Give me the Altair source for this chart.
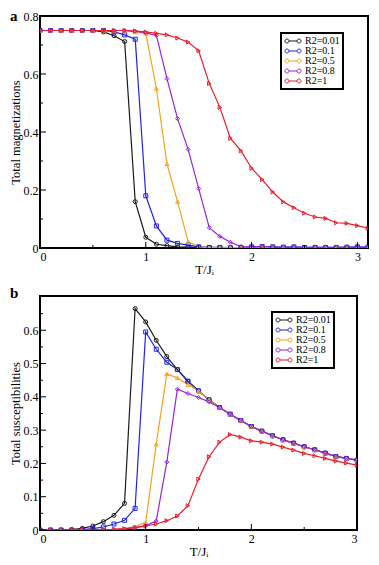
import altair as alt
import pandas as pd

FONT = "Liberation Serif"
series = ["R2=0.01", "R2=0.1", "R2=0.5", "R2=0.8", "R2=1"]
colors = ["#1a1a1a", "#2222e6", "#f5a21f", "#9a24d4", "#ea1f2b"]
shapes = ["circle", "square", "triangle-up", "diamond", "triangle-right"]

# ---- panel a: total magnetizations ----
T_a = [0.0, 0.1, 0.2, 0.3, 0.4, 0.5, 0.6, 0.7, 0.8, 0.9,
       1.0, 1.1, 1.2, 1.3, 1.4, 1.5, 1.6, 1.7, 1.8, 1.9,
       2.0, 2.1, 2.2, 2.3, 2.4, 2.5, 2.6, 2.7, 2.8, 2.9,
       3.0, 3.1]
mag_001 = [0.75, 0.75, 0.75, 0.75, 0.75, 0.75, 0.745, 0.732, 0.712, 0.16,
           0.037, 0.013, 0.008, 0.004, 0.003, 0.002, 0.002, 0.001, 0.001, 0.001,
           0.001, 0.001, 0.001, 0.001, 0.001, 0.001, 0.001, 0.001, 0.001, 0.001,
           0.001, 0.001]
mag_01 = [0.75, 0.75, 0.75, 0.75, 0.75, 0.75, 0.75, 0.745, 0.735, 0.72,
          0.18, 0.076, 0.027, 0.016, 0.01, 0.004, 0.002, 0.002, 0.001, 0.002,
          0.004, 0.005, 0.004, 0.003, 0.004, 0.002, 0.002, 0.002, 0.002, 0.003,
          0.004, 0.003]
mag_05 = [0.75, 0.75, 0.75, 0.75, 0.75, 0.75, 0.75, 0.75, 0.75, 0.745,
          0.74, 0.55, 0.29, 0.16, 0.022, 0.004, 0.001, 0.001, 0.001, 0.001,
          0.001, 0.001, 0.001, 0.001, 0.001, 0.001, 0.001, 0.001, 0.001, 0.001,
          0.001, 0.001]
mag_08 = [0.75, 0.75, 0.75, 0.75, 0.75, 0.75, 0.75, 0.75, 0.75, 0.748,
          0.742, 0.733, 0.584, 0.446, 0.34, 0.205, 0.07, 0.04, 0.02, 0.005,
          0.002, 0.006, 0.002, 0.002, 0.002, 0.002, 0.002, 0.002, 0.002, 0.002,
          0.002, 0.002]
mag_1 = [0.75, 0.75, 0.75, 0.75, 0.75, 0.75, 0.75, 0.75, 0.75, 0.748,
         0.745, 0.74, 0.735, 0.724, 0.71, 0.68, 0.567, 0.485, 0.378, 0.335,
         0.275, 0.236, 0.193, 0.159, 0.139, 0.12, 0.107, 0.102, 0.087, 0.085,
         0.077, 0.068]

# ---- panel b: total susceptibilities ----
T_b = [0.0, 0.1, 0.2, 0.3, 0.4, 0.5, 0.6, 0.7, 0.8, 0.9,
       1.0, 1.1, 1.2, 1.3, 1.4, 1.5, 1.6, 1.7, 1.8, 1.9,
       2.0, 2.1, 2.2, 2.3, 2.4, 2.5, 2.6, 2.7, 2.8, 2.9,
       3.0]
sus_001 = [0.0, 0.0, 0.0, 0.001, 0.005, 0.012, 0.025, 0.044, 0.08, 0.665,
           0.625, 0.57, 0.521, 0.482, 0.447, 0.418, 0.391, 0.368, 0.348, 0.329,
           0.311, 0.297, 0.283, 0.271, 0.261, 0.25, 0.241, 0.231, 0.221, 0.215,
           0.21]
sus_01 = [0.0, 0.0, 0.0, 0.0, 0.001, 0.004, 0.009, 0.018, 0.029, 0.065,
          0.595, 0.543, 0.504, 0.482, 0.447, 0.418, 0.391, 0.368, 0.348, 0.329,
          0.311, 0.297, 0.283, 0.271, 0.261, 0.25, 0.241, 0.231, 0.221, 0.215,
          0.21]
sus_05 = [0.0, 0.0, 0.0, 0.0, 0.0, 0.0, 0.001, 0.002, 0.004, 0.01,
          0.023, 0.258, 0.469, 0.457, 0.437, 0.418, 0.391, 0.368, 0.348, 0.329,
          0.311, 0.297, 0.283, 0.271, 0.261, 0.25, 0.241, 0.231, 0.221, 0.215,
          0.21]
sus_08 = [0.0, 0.0, 0.0, 0.0, 0.0, 0.0, 0.0, 0.001, 0.003, 0.007,
          0.013, 0.027, 0.204, 0.423, 0.41, 0.398, 0.385, 0.368, 0.348, 0.329,
          0.311, 0.297, 0.283, 0.271, 0.261, 0.25, 0.241, 0.231, 0.221, 0.215,
          0.21]
sus_1 = [0.0, 0.0, 0.0, 0.0, 0.0, 0.0, 0.001, 0.002, 0.004, 0.007,
         0.012, 0.018, 0.028, 0.042, 0.073, 0.153, 0.22, 0.264, 0.287, 0.279,
         0.268, 0.264, 0.258, 0.249, 0.24, 0.23, 0.223, 0.215, 0.207, 0.201,
         0.195]

# axis tick values
xmajor = [0, 1, 2, 3]
xminor = [0.5, 1.5, 2.5]
ymajor_a = [0, 0.2, 0.4, 0.6, 0.8]
yminor_a = [0.1, 0.3, 0.5, 0.7]
ymajor_b = [0, 0.1, 0.2, 0.3, 0.4, 0.5, 0.6]
yminor_b = [0.05, 0.15, 0.25, 0.35, 0.45, 0.55, 0.65]

# legend symbol: line with an open circle at each end
LEG_PATH = ("M-1,0A0.5,0.5 0 1,1 0,0A0.5,0.5 0 1,1 -1,0"
            "M0,0L2,0"
            "M2,0A0.5,0.5 0 1,1 3,0A0.5,0.5 0 1,1 2,0")


def panel(T, vals, ytitle, ydom, xdom, ymaj, ymin, w, h, letter, lx, ly, letter_y):
    rows = []
    for s, v in zip(series, vals):
        for t, y in zip(T, v):
            rows.append({"T": t, "val": y, "series": s})
    df = pd.DataFrame(rows)

    xscale = alt.Scale(domain=xdom, nice=False, zero=False)
    yscale = alt.Scale(domain=ydom, nice=False, zero=False)
    xaxis = alt.Axis(title="T/Jᵢ", values=xmajor, format="~g", ticks=False,
                     domain=False, grid=False, labelPadding=3, titlePadding=1,
                     labelFont=FONT, titleFont=FONT, labelFontSize=12, titleFontSize=13)
    yaxis = alt.Axis(title=ytitle, values=ymaj, format="~g", ticks=False,
                     domain=False, grid=False, labelPadding=2, titlePadding=1,
                     labelFont=FONT, titleFont=FONT, labelFontSize=12, titleFontSize=12.5)
    X = alt.X("T:Q", scale=xscale, axis=xaxis)
    Y = alt.Y("val:Q", scale=yscale, axis=yaxis)
    color = alt.Color("series:N", scale=alt.Scale(domain=series, range=colors),
                      legend=alt.Legend(title=None, orient="none", legendX=lx, legendY=ly,
                                        symbolType=LEG_PATH, symbolSize=64,
                                        symbolStrokeWidth=1, symbolFillColor="white",
                                        labelOffset=11, strokeColor="black",
                                        labelFont=FONT, labelFontSize=10,
                                        padding=3, rowPadding=0))
    base = alt.Chart(df)
    layers = [base.mark_line(strokeWidth=1.2, clip=True).encode(x=X, y=Y, color=color)]
    for s, c, shp in zip(series, colors, shapes):
        layers.append(
            base.transform_filter(alt.datum.series == s)
            .mark_point(shape=shp, filled=False, size=16, strokeWidth=1, clip=True, opacity=1, color=c)
            .encode(x=X, y=Y)
        )

    layers.append(alt.Chart(pd.DataFrame({"val": ymaj})).mark_rule(color="black", strokeWidth=1).encode(
        y=Y, x=alt.value(0), x2=alt.value(6)))
    layers.append(alt.Chart(pd.DataFrame({"val": ymin})).mark_rule(color="black", strokeWidth=1).encode(
        y=Y, x=alt.value(0), x2=alt.value(3)))
    layers.append(alt.Chart(pd.DataFrame({"T": xmajor})).mark_rule(color="black", strokeWidth=1).encode(
        x=X, y=alt.value(h), y2=alt.value(h - 6)))
    layers.append(alt.Chart(pd.DataFrame({"T": xminor})).mark_rule(color="black", strokeWidth=1).encode(
        x=X, y=alt.value(h), y2=alt.value(h - 3)))
    layers.append(alt.Chart(pd.DataFrame({"lab": [letter]})).mark_text(
        fontSize=15, fontWeight="bold", font=FONT, align="left", baseline="middle", color="black"
    ).encode(x=alt.value(-30), y=alt.value(letter_y), text="lab:N"))

    return alt.layer(*layers).properties(width=w, height=h)


pa = panel(T_a, [mag_001, mag_01, mag_05, mag_08, mag_1], "Total magnetizations",
           [0, 0.8], [0, 3.1], ymajor_a, yminor_a, 328, 232, "a", 241, 17, 0)
pb = panel(T_b, [sus_001, sus_01, sus_05, sus_08, sus_1], "Total susceptibilities",
           [0, 0.703], [0, 3.0], ymajor_b, yminor_b, 317, 234, "b", 232, 16, -3)

chart = alt.vconcat(pa, pb, spacing=8).resolve_scale(color="independent").configure(
    font=FONT, padding=0
).configure_view(
    stroke="black", strokeWidth=2
).configure_axis(
    labelColor="black", titleColor="black", titleFontWeight="normal"
).configure_legend(
    labelColor="black", strokeWidth=2
)

chart.save("out.html", embed_options={"renderer": "svg", "actions": False})
